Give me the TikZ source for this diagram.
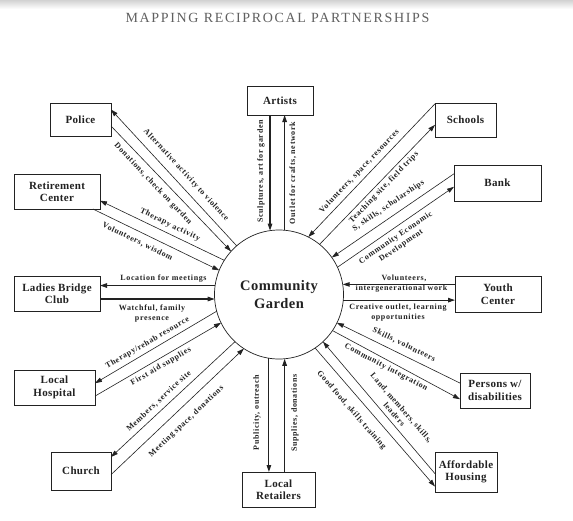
\documentclass[tikz,border=0pt]{standalone}
\usepackage{fontspec}
\setmainfont{Liberation Serif}
\newfontfamily\labf[LetterSpace=8]{Liberation Serif}
\newfontfamily\boxf[LetterSpace=3]{Liberation Serif}
\newfontfamily\titf[LetterSpace=12]{Liberation Serif}
\usetikzlibrary{arrows.meta}
\definecolor{ink}{HTML}{222222}
\begin{document}
\begin{tikzpicture}[x=1pt,y=-1pt,
 box/.style={draw=ink, line width=0.7pt, inner sep=0pt, outer sep=0pt, align=center, font=\boxf\bfseries\fontsize{11}{12.5}\selectfont, text=ink},
 lab/.style={inner sep=0pt, align=center, font=\labf\bfseries\fontsize{8}{9.5}\selectfont, text=ink},
 con/.style={draw=ink, line width=0.6pt, -{Triangle[length=7pt,width=4.5pt]}},
 hv/.style={con, line width=1.1pt},
]
\useasboundingbox (0,0) rectangle (573,520);
\fill[white] (0,0) rectangle (573,520);
\shade[top color=gray!35, bottom color=white] (0,0) rectangle (573,9);

\node[font=\titf\fontsize{14}{16}\selectfont, text=gray!75!black] (title) at (277.5,18) {MAPPING RECIPROCAL PARTNERSHIPS};

\node[circle, draw=ink, line width=0.7pt, minimum size=129pt, inner sep=0pt, outer sep=0pt, align=center, text=ink, font=\boxf\bfseries\fontsize{14.5}{18}\selectfont] (cg) at (279,294.5) {Community\\Garden};

\node[box, minimum width=66pt, minimum height=29pt] (artists) at (280,100.5) {Artists};
\node[box, minimum width=61pt, minimum height=33pt] (police) at (80.5,119.5) {Police};
\node[box, minimum width=86pt, minimum height=35pt] (retire) at (57,191.5) {Retirement\\Center};
\node[box, minimum width=86pt, minimum height=35pt] (ladies) at (57,293.5) {Ladies Bridge\\Club};
\node[box, minimum width=81pt, minimum height=35pt] (hospital) at (54.5,387.5) {Local\\Hospital};
\node[box, minimum width=60pt, minimum height=38pt] (church) at (81,471) {Church};
\node[box, minimum width=73pt, minimum height=35pt] (retailers) at (278.5,489.5) {Local\\Retailers};
\node[box, minimum width=62pt, minimum height=40pt] (housing) at (466,472) {Affordable\\Housing};
\node[box, minimum width=70pt, minimum height=35pt] (persons) at (495,390.5) {Persons w/\\disabilities};
\node[box, minimum width=86pt, minimum height=36pt] (youth) at (498,294) {Youth\\Center};
\node[box, minimum width=87pt, minimum height=36pt] (bank) at (497.5,183) {Bank};
\node[box, minimum width=61pt, minimum height=34pt] (schools) at (465.5,120) {Schools};

% Artists
\draw[hv] (cg.98.9 |- artists.south) -- (cg.98.9);
\draw[hv] (cg.85.6) -- (cg.85.6 |- artists.south);
% Police
\draw[con] (cg.131.6) -- (police.18.2);
\draw[con] (police.-12.9) -- (cg.138.9);
% Retirement
\draw[con] (cg.148.4) -- (retire.-12.1);
\draw[con] (retire.-26.1) -- (cg.158.5);
% Ladies
\draw[hv] (cg.172.4) -- (cg.172.4 -| ladies.east);
\draw[hv] (ladies.east |- cg.184) -- (cg.184);
% Hospital
\draw[con] (cg.195.5) -- (hospital.6.3);
\draw[con] (hospital.-12.8) -- (cg.206.1);
% Church
\draw[con] (cg.227) -- (church.25.5);
\draw[con] (church.-7.6) -- (cg.237.2);
% Retailers
\draw[hv] (cg.261.1) -- (cg.261.1 |- retailers.north);
\draw[hv] (retailers.north -| cg.275.3) -- (cg.275.3);
% Housing
\draw[con] (cg.-56.2) -- (housing.205.8);
\draw[con] (housing.183.7) -- (cg.-47.8);
% Persons
\draw[con] (persons.168.4) -- (cg.-26.8);
\draw[con] (cg.-34.5) -- (persons.194.1);
% Youth
\draw[hv] (youth.west |- cg.9.4) -- (cg.9.4);
\draw[hv] (cg.-5.8) -- (cg.-5.8 -| youth.west);
% Bank
\draw[con] (bank.168.3) -- (cg.35.3);
\draw[con] (cg.25.1) -- (bank.185.6);
% Schools
\draw[con] (schools.152.3) -- (cg.63.1);
\draw[con] (cg.51.3) -- (schools.189.3);

% Labels
\node[lab, rotate=90] (lart1) at (261,171.5) {Sculptures, art for garden};
\node[lab, rotate=90] (lart2) at (293,173) {Outlet for crafts, network};
\node[lab, rotate=-47.5] (lpol1) at (186,175) {Alternative activity to violence};
\node[lab, rotate=-46.5] (lpol2) at (153,184) {Donations, check on garden};
\node[lab, rotate=-26] (lret1) at (170,225) {Therapy activity};
\node[lab, rotate=-26] (lret2) at (137.5,241.5) {Volunteers, wisdom};
\node[lab] (llad1) at (163.5,279) {Location for meetings};
\node[lab] (llad2) at (152,313.5) {Watchful, family\\presence};
\node[lab, rotate=30.3] (lhos1) at (147.5,343) {Therapy/rehab resource};
\node[lab, rotate=30.3] (lhos2) at (161,366.5) {First aid supplies};
\node[lab, rotate=43] (lchu1) at (159,401) {Members, service site};
\node[lab, rotate=43.5] (lchu2) at (186.5,421.5) {Meeting space, donations};
\node[lab, rotate=90] (lret3) at (257,412.5) {Publicity, outreach};
\node[lab, rotate=90] (lret4) at (295,413) {Supplies, donations};
\node[lab, rotate=-49] (lhou1) at (351.5,410.5) {Good food, skills training};
\node[lab, rotate=-49] (lhou2) at (398,411) {Land, members, skills,\\leaders};
\node[lab, rotate=-25.8] (lper1) at (404,344.7) {Skills, volunteers};
\node[lab, rotate=-28] (lper2) at (386,367.5) {Community integration};
\node[lab] (lyou1) at (404,278) {Volunteers,};
\node[lab] (lyou2) at (401.5,289) {intergenerational work};
\node[lab] (lyou3) at (398,312.5) {Creative outlet, learning\\opportunities};
\node[lab, rotate=34.2] (lban1) at (388.5,206) {S, skills, scholarships};
\node[lab, rotate=34.4] (lban2) at (398.5,242) {Community Economic\\Development};
\node[lab, rotate=46.4] (lsch1) at (359.5,171.5) {Volunteers, space, resources};
\node[lab, rotate=45.8] (lsch2) at (384,187.5) {Teaching site, field trips};
\end{tikzpicture}
\end{document}
